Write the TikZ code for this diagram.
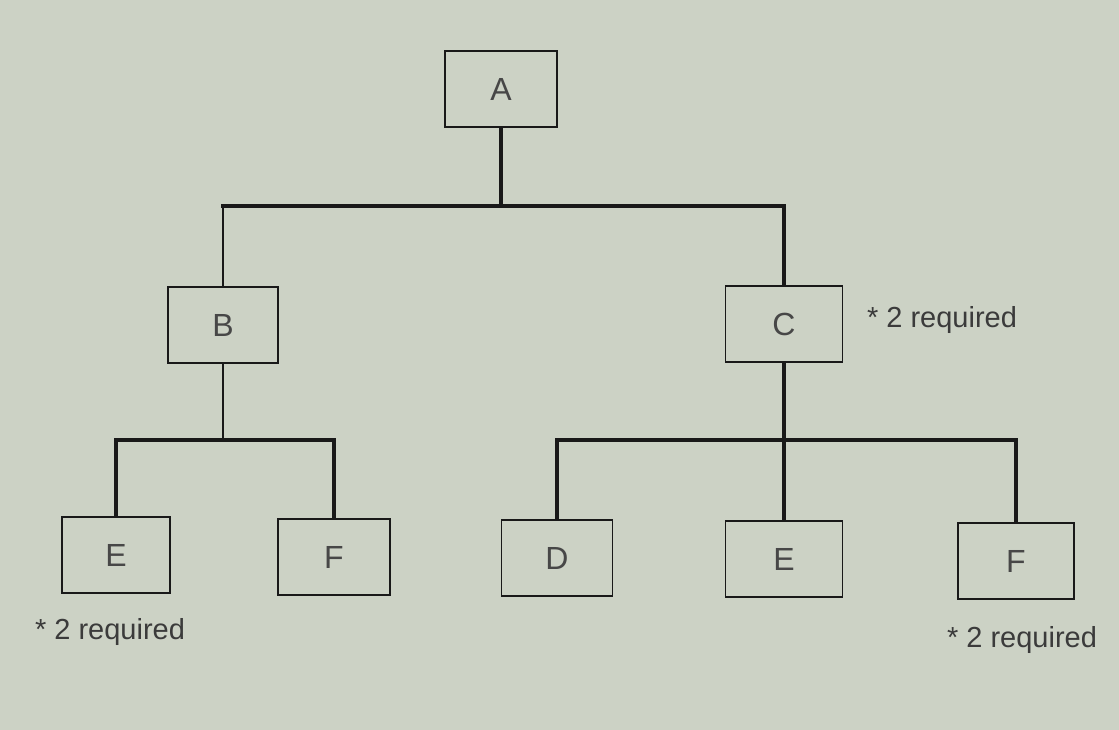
\documentclass[tikz,border=0pt]{standalone}
\usepackage{fontspec}
\setmainfont{Liberation Sans}
\definecolor{bg}{RGB}{204,210,197}
\definecolor{ink}{RGB}{25,25,25}
\begin{document}
\begin{tikzpicture}[x=1pt,y=-1pt,
  box/.style={draw=ink,line width=1.2pt,fill=bg,minimum width=#1,minimum height=76pt,inner sep=0pt,font=\fontsize{32}{36}\selectfont,text=ink!80},
  box/.default=112pt,
  thick line/.style={draw=ink,line width=3.5pt,line cap=rect},
  thin line/.style={draw=ink,line width=1.5pt},
  lbl/.style={font=\fontsize{29}{33}\selectfont,text=ink!85}]
\fill[bg] (0,0) rectangle (1119,730);
\useasboundingbox (0,0) rectangle (1119,730);
\node[box] (A) at (501,89) {A};
\node[box=110pt] (B) at (223,325) {B};
\node[box=117pt] (C) at (784,324) {C};
\node[box=108pt] (E1) at (116,555) {E};
\node[box] (F1) at (334,557) {F};
\node[box=111pt] (D) at (557,558) {D};
\node[box=117pt] (E2) at (784,559) {E};
\node[box=116pt] (F2) at (1016,561) {F};
\coordinate (j1) at (501,206);
\coordinate (j2) at (223,440);
\coordinate (j3) at (784,440);
\draw[thick line] (A.south) -- (j1);
\draw[thick line] (B.north |- j1) -- (C.north |- j1);
\draw[thin line] (B.north |- j1) -- (B.north);
\draw[thick line] (C.north |- j1) -- (C.north);
\draw[thin line] (B.south) -- (j2);
\draw[thick line] (E1.north |- j2) -- (F1.north |- j2);
\draw[thick line] (E1.north |- j2) -- (E1.north);
\draw[thick line] (F1.north |- j2) -- (F1.north);
\draw[thick line] (C.south) -- (E2.north);
\draw[thick line] (D.north |- j3) -- (F2.north |- j3);
\draw[thick line] (D.north |- j3) -- (D.north);
\draw[thick line] (F2.north |- j3) -- (F2.north);
\node[lbl] (l1) at (942,320) {* 2 required};
\node[lbl] (l2) at (110,632) {* 2 required};
\node[lbl] (l3) at (1022,640) {* 2 required};
\end{tikzpicture}
\end{document}
